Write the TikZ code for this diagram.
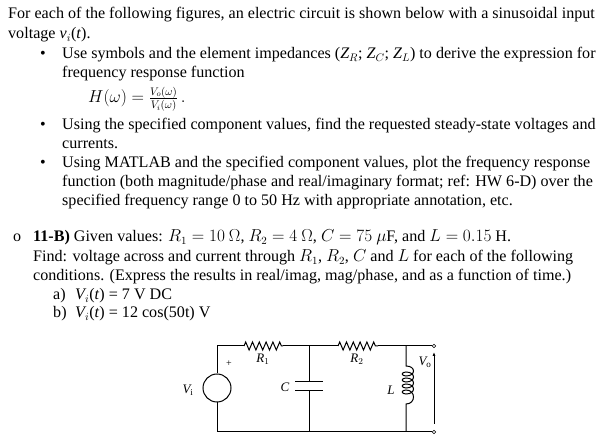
\documentclass[tikz,border=0pt]{standalone}
\usepackage{fontspec}
\setmainfont{Liberation Serif}
\usetikzlibrary{arrows.meta,decorations.pathmorphing}
\begin{document}
\begin{tikzpicture}[x=1pt,y=-1pt,
  txt/.style={anchor=base west,inner sep=0pt,font=\fontsize{16.1}{19}\selectfont},
  lbl/.style={inner sep=0pt,font=\fontsize{13}{15}\selectfont\itshape},
  wire/.style={line width=1pt},
  res/.style={line width=1pt,decorate,decoration={zigzag,segment length=6.8pt,amplitude=4pt}}]
\useasboundingbox (0,0) rectangle (614,446);
\node[txt] (l1) at (8,19) {For each of the following figures, an electric circuit is shown below with a sinusoidal input};
\node[txt] (l2) at (8,39) {voltage \textit{v$_i$}(\textit{t}).};
\node[txt] (b1) at (40,59) {\textbullet};
\node[txt] (l3) at (62,59) {Use symbols and the element impedances (\textit{Z$_R$}; \textit{Z$_C$}; \textit{Z$_L$}) to derive the expression for};
\node[txt] (l4) at (62,78) {frequency response function};
\node[txt] (l5) at (88,103) {$H(\omega)=\frac{V_o(\omega)}{V_i(\omega)}\,.$};
\node[txt] (b2) at (40,130) {\textbullet};
\node[txt] (l6) at (62,130) {Using the specified component values, find the requested steady-state voltages and};
\node[txt] (l7) at (62,149) {currents.};
\node[txt] (b3) at (40,168) {\textbullet};
\node[txt] (l8) at (62,168) {Using MATLAB and the specified component values, plot the frequency response};
\node[txt] (l9) at (62,187) {function (both magnitude/phase and real/imaginary format; ref: HW 6-D) over the};
\node[txt] (l10) at (62,206) {specified frequency range 0 to 50 Hz with appropriate annotation, etc.};
\node[txt] (o) at (13,242) {o};
\node[txt] (l11) at (33,242) {\textbf{11-B)} Given values: $R_1=10\ \Omega$, $R_2=4\ \Omega$, $C=75\ \mu$F, and $L=0.15$ H.};
\node[txt] (l12) at (33,262) {Find: voltage across and current through $R_1$, $R_2$, $C$ and $L$ for each of the following};
\node[txt] (l13) at (33,281) {conditions. (Express the results in real/imag, mag/phase, and as a function of time.)};
\node[txt] (a) at (53,300) {a)};
\node[txt] (la) at (75,300) {\textit{V$_i$}(\textit{t}) = 7 V DC};
\node[txt] (b) at (53,318) {b)};
\node[txt] (lb) at (75,318) {\textit{V$_i$}(\textit{t}) = 12 cos(50t) V};
% circuit
\coordinate (tl) at (217,346); \coordinate (bl) at (217,432);
\coordinate (r1a) at (244,346); \coordinate (r1b) at (283,346);
\coordinate (cn) at (309,346); \coordinate (cb) at (309,432);
\coordinate (r2a) at (338,346); \coordinate (r2b) at (378,346);
\coordinate (ln) at (406,346); \coordinate (lb2) at (406,432);
\node[circle,draw,line width=1pt,minimum size=28pt,inner sep=0pt] (src) at (217,388) {};
\draw[wire] (src.north) -- (tl) -- (r1a);
\draw[res] (r1a) -- (r1b);
\draw[wire] (r1b) -- (r2a);
\draw[res] (r2a) -- (r2b);
\draw[wire] (r2b) -- (432,346);
\draw[wire] (src.south) -- (bl) -- (432,432);
\draw[wire] (cn) -- (309,382) (295,382) -- (323,382) (295,391) -- (323,391) (309,391) -- (cb);
\draw[wire] (ln) -- (406,366)
  .. controls (416,366) and (416,376) .. (406,376)
  .. controls (401,376) and (401,372) .. (406,372)
  .. controls (416,372) and (416,382) .. (406,382)
  .. controls (401,382) and (401,378) .. (406,378)
  .. controls (416,378) and (416,388) .. (406,388)
  .. controls (401,388) and (401,384) .. (406,384)
  .. controls (416,384) and (416,394) .. (406,394)
  .. controls (401,394) and (401,390) .. (406,390)
  .. controls (416,390) and (416,404) .. (406,404) -- (lb2);
\node[circle,draw,inner sep=0pt,minimum size=3.5pt,fill=white] (t1) at (434,346) {};
\node[circle,draw,inner sep=0pt,minimum size=3.5pt,fill=white] (t2) at (434,432) {};
\draw[line width=0.8pt,-{Latex[length=4pt]}] (434,424) -- (434,352);
\node[lbl] (vi) at (188,390) {V$_{\mathrm{i}}$};
\node[font=\fontsize{10}{12}\selectfont] (plus) at (229,364) {+};
\node[lbl] (r1l) at (263,359) {R$_1$};
\node[lbl] (r2l) at (357,359) {R$_2$};
\node[lbl] (cl) at (285,387) {C};
\node[lbl] (ll) at (391,390) {L};
\node[lbl] (vo) at (425,362) {V$_{\mathrm{o}}$};
\end{tikzpicture}
\end{document}
